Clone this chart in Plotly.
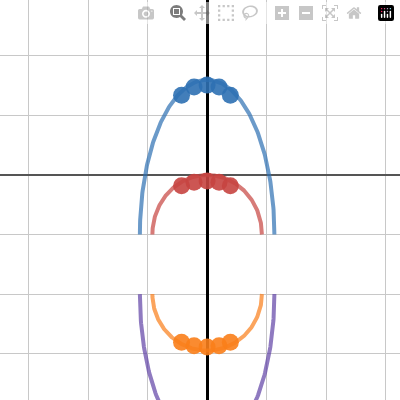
import numpy as np
import plotly.graph_objects as go

# ellipse arcs: (center_y, half_width, half_height, direction +1 upper / -1 lower, color)
arc_cy = [-1, -1, -2, -2]
arc_a = [1.13, 0.92, 0.92, 1.13]
arc_b = [2.6, 1.0, 0.95, 2.6]
arc_dir = [1, 1, -1, -1]
arc_colors = ["#2d70b3", "#c74440", "#fa7e19", "#6042a6"]

pt_x = [-0.43, -0.22, 0.0, 0.2, 0.39]
blue_y = [1.34, 1.48, 1.51, 1.48, 1.34]
red_y = [-0.18, -0.12, -0.10, -0.12, -0.18]
orange_y = [-2.81, -2.87, -2.89, -2.87, -2.81]

fig = go.Figure()
t = np.linspace(0, np.pi, 200)
for cy, a, b, d, c in zip(arc_cy, arc_a, arc_b, arc_dir, arc_colors):
    fig.add_trace(go.Scatter(x=a*np.cos(t), y=cy + d*b*np.sin(t), mode="lines",
                             line=dict(color=c, width=4), opacity=0.7))
for ys, c in [(blue_y, "#2d70b3"), (red_y, "#c74440"), (orange_y, "#fa7e19")]:
    fig.add_trace(go.Scatter(x=pt_x, y=ys, mode="markers",
                             marker=dict(color=c, size=17, opacity=0.9)))

fig.update_layout(width=400, height=400, margin=dict(l=0, r=0, t=0, b=0),
                  showlegend=False, plot_bgcolor="white", paper_bgcolor="white")
fig.update_xaxes(range=[-3.48, 3.24], dtick=1, tick0=0, showgrid=True, gridcolor="#c8c8c8",
                 zeroline=True, zerolinecolor="black", zerolinewidth=3, showticklabels=False)
fig.update_yaxes(range=[-3.78, 2.94], dtick=1, tick0=0, showgrid=True, gridcolor="#c8c8c8",
                 zeroline=True, zerolinecolor="#555555", zerolinewidth=1.5, showticklabels=False)
fig.write_html("out.html", post_script="document.body.style.margin='0';")
